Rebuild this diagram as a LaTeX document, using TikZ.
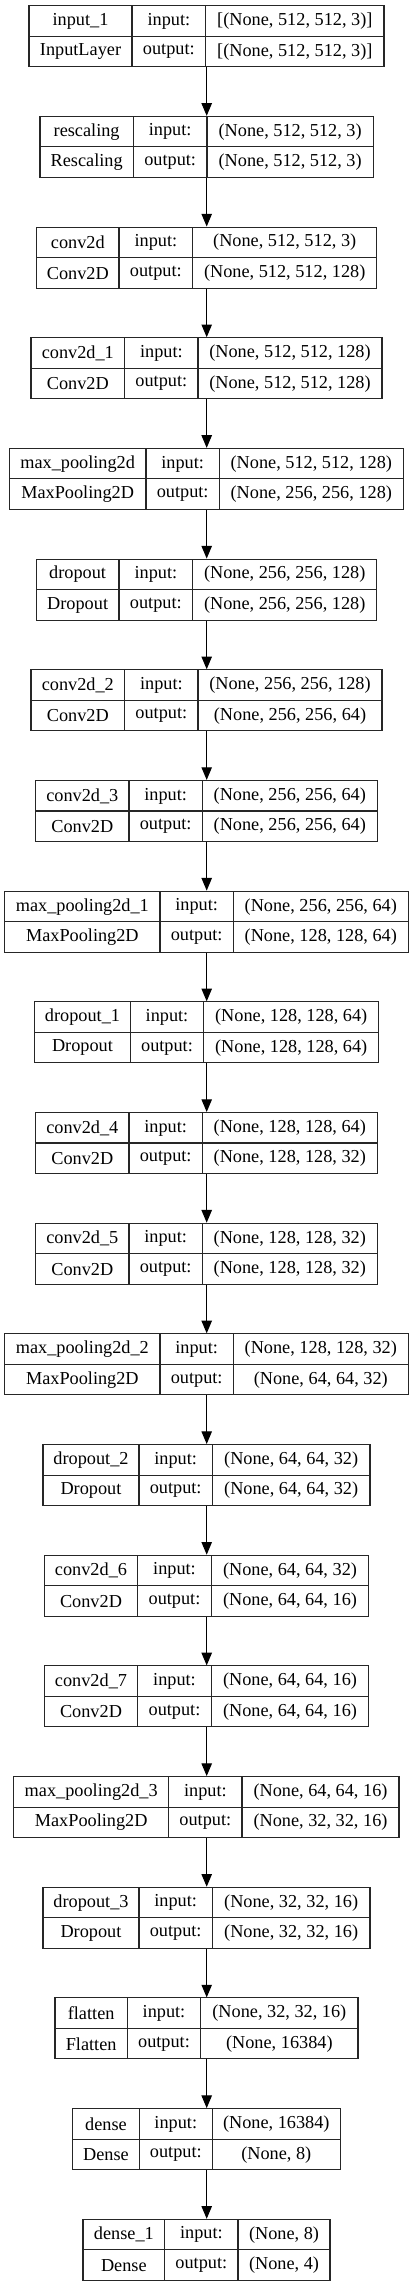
\documentclass[tikz,border=0pt]{standalone}
\usepackage{fontspec}
\setmainfont{Liberation Serif}
\usetikzlibrary{arrows.meta,fit}
\tikzset{
  cellbox/.style={draw=black!85, line width=0.8pt, inner sep=0pt},
  cellline/.style={draw=black!85, line width=0.8pt},
  celltext/.style={inner sep=0pt, anchor=center, font=\fontsize{13.7pt}{16pt}\selectfont},
  flow/.style={draw=black, line width=0.8pt, -{Triangle[length=9.5pt,width=7.8pt]}}
}
\newcommand\klayer[9]{%
  \pgfmathsetmacro\ktop{5.7+110.68*#1}%
  \pgfmathsetmacro\kbot{\ktop+61}%
  \pgfmathsetmacro\kmid{\ktop+30.5}%
  \pgfmathsetmacro\kra{\ktop+15.5}%
  \pgfmathsetmacro\krb{\ktop+46}%
  \node[cellbox, fit={(#2,\ktop) (#5,\kbot)}] (L#1) {};
  \draw[cellline] (#3,\ktop) -- (#3,\kbot);
  \draw[cellline] (#4,\ktop) -- (#4,\kbot);
  \draw[cellline] (#2,\kmid) -- (#5,\kmid);
  \node[celltext] (L#1n) at ({(#2+#3)/2},\kra) {#6};
  \node[celltext] (L#1c) at ({(#2+#3)/2},\krb) {#7};
  \node[celltext] (L#1i) at ({(#3+#4)/2},\kra) {input:};
  \node[celltext] (L#1o) at ({(#3+#4)/2},\krb) {output:};
  \node[celltext] (L#1s) at ({(#4+#5)/2},\kra) {#8};
  \node[celltext] (L#1t) at ({(#4+#5)/2},\krb) {#9};
}
\begin{document}
\begin{tikzpicture}[x=0.75pt,y=-0.75pt]
\useasboundingbox (0,0) rectangle (413,2287);
\coordinate (ax) at (206.7,0);
\klayer{0}{29}{132}{205.7}{384}{input\_1}{InputLayer}{[(None, 512, 512, 3)]}{[(None, 512, 512, 3)]}
\klayer{1}{40}{133.3}{207}{373.3}{rescaling}{Rescaling}{(None, 512, 512, 3)}{(None, 512, 512, 3)}
\klayer{2}{36.7}{119}{192.7}{376.7}{conv2d}{Conv2D}{(None, 512, 512, 3)}{(None, 512, 512, 128)}
\klayer{3}{31}{124.7}{198}{382}{conv2d\_1}{Conv2D}{(None, 512, 512, 128)}{(None, 512, 512, 128)}
\klayer{4}{9.3}{146}{219.3}{403.3}{max\_pooling2d}{MaxPooling2D}{(None, 512, 512, 128)}{(None, 256, 256, 128)}
\klayer{5}{36.3}{119}{192.7}{376.7}{dropout}{Dropout}{(None, 256, 256, 128)}{(None, 256, 256, 128)}
\klayer{6}{31}{124.7}{198}{382}{conv2d\_2}{Conv2D}{(None, 256, 256, 128)}{(None, 256, 256, 64)}
\klayer{7}{35.7}{129}{202.3}{377.3}{conv2d\_3}{Conv2D}{(None, 256, 256, 64)}{(None, 256, 256, 64)}
\klayer{8}{4.7}{160}{233.3}{408.3}{max\_pooling2d\_1}{MaxPooling2D}{(None, 256, 256, 64)}{(None, 128, 128, 64)}
\klayer{9}{34.7}{130.3}{203.7}{378.7}{dropout\_1}{Dropout}{(None, 128, 128, 64)}{(None, 128, 128, 64)}
\klayer{10}{35.7}{129}{202.3}{377.3}{conv2d\_4}{Conv2D}{(None, 128, 128, 64)}{(None, 128, 128, 32)}
\klayer{11}{35.7}{129}{202.3}{377.3}{conv2d\_5}{Conv2D}{(None, 128, 128, 32)}{(None, 128, 128, 32)}
\klayer{12}{4.7}{160}{233.3}{408.3}{max\_pooling2d\_2}{MaxPooling2D}{(None, 128, 128, 32)}{(None, 64, 64, 32)}
\klayer{13}{43}{139}{212.3}{370}{dropout\_2}{Dropout}{(None, 64, 64, 32)}{(None, 64, 64, 32)}
\klayer{14}{44.3}{137.7}{211.3}{368.7}{conv2d\_6}{Conv2D}{(None, 64, 64, 32)}{(None, 64, 64, 16)}
\klayer{15}{44.3}{137.7}{211.3}{368.7}{conv2d\_7}{Conv2D}{(None, 64, 64, 16)}{(None, 64, 64, 16)}
\klayer{16}{13.7}{168.7}{242}{399}{max\_pooling2d\_3}{MaxPooling2D}{(None, 64, 64, 16)}{(None, 32, 32, 16)}
\klayer{17}{43}{139}{212.3}{370}{dropout\_3}{Dropout}{(None, 32, 32, 16)}{(None, 32, 32, 16)}
\klayer{18}{55}{127.3}{200.7}{358}{flatten}{Flatten}{(None, 32, 32, 16)}{(None, 16384)}
\klayer{19}{72.7}{139.3}{212.3}{340.3}{dense}{Dense}{(None, 16384)}{(None, 8)}
\klayer{20}{83}{164.7}{238}{330}{dense\_1}{Dense}{(None, 8)}{(None, 4)}
\foreach \a [evaluate=\a as \b using int(\a+1)] in {0,...,19}{
  \draw[flow] (L\a.south -| ax) -- (L\b.north -| ax);
}
\end{tikzpicture}
\end{document}
